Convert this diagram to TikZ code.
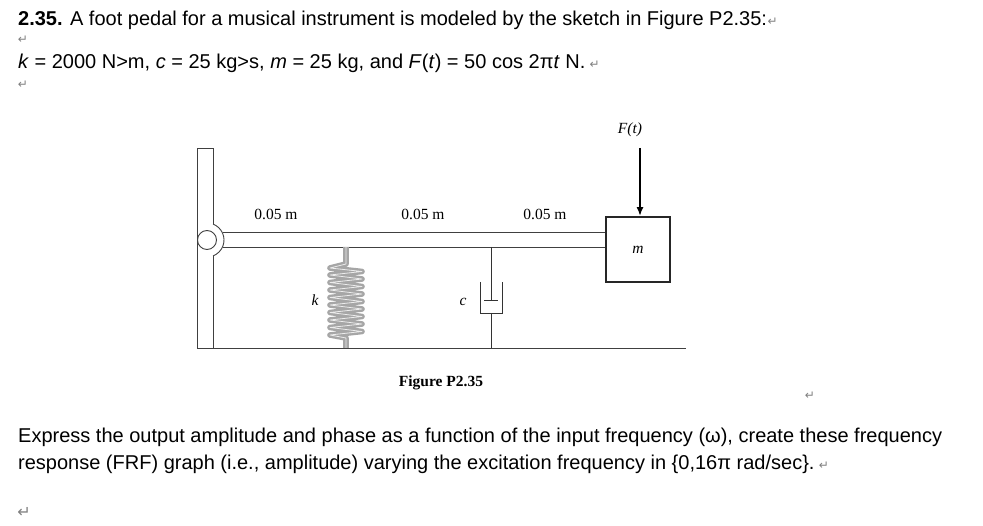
\documentclass[tikz,border=0pt]{standalone}
\usetikzlibrary{arrows.meta}
\usepackage{fontspec}
\setmainfont{Liberation Sans}
\newfontfamily\fig{Liberation Serif}
\newfontfamily\dv{DejaVu Sans}
\begin{document}
\begin{tikzpicture}[x=1pt,y=-1pt,
  txt/.style={anchor=base west,inner sep=0,font=\fontsize{20}{24}\selectfont},
  lab/.style={inner sep=0,font=\fig\fontsize{15.5}{18}\selectfont},
  ret/.style={inner sep=0,text=gray,font=\dv\fontsize{12}{14}\selectfont},
  struct/.style={draw=black!75,line width=0.9pt}]
\useasboundingbox (0,0) rectangle (983,526);
% text
\node[txt] (t1) at (18,26) {\textbf{2.35.} A foot pedal for a musical instrument is modeled by the sketch in Figure P2.35:};
\node[ret,anchor=base west] (r1) at (t1.base east) {↵};
\node[ret] (r2) at (23,40) {↵};
\node[txt] (t2) at (18,69) {\textit{k} = 2000 N>m, \textit{c} = 25 kg>s, \textit{m} = 25 kg, and \textit{F}(\textit{t}) = 50 cos 2π\textit{t} N.};
\node[ret,anchor=base west] (r3) at (t2.base east) {\ ↵};
\node[ret] (r4) at (23,85) {↵};
\node[txt] (t3) at (18,443) {Express the output amplitude and phase as a function of the input frequency (ω), create these frequency};
\node[txt] (t4) at (18,470) {response (FRF) graph (i.e., amplitude) varying the excitation frequency in \{0,16π rad/sec\}.};
\node[ret,anchor=base west] (r5) at (t4.base east) {\ ↵};
\node[ret] (r6) at (810,396) {↵};
\node[ret,font=\dv\fontsize{16}{18}\selectfont] (r7) at (24,512) {↵};
% post and ground
\draw[struct] (197,348) -- (197,148) -- (213,148) -- (213,224);
\draw[struct] (213,256) -- (213,348);
\draw[struct] (197,348) -- (686,348);
% pivot
\coordinate (pv) at (207,240);
\draw[struct] (pv) ++(-69:17) arc[start angle=-69,end angle=69,radius=17];
\draw[struct] (pv) circle[radius=9.5];
% beam
\node[draw=black!85,line width=1.8pt,minimum width=64,minimum height=65,inner sep=0] (m) at (638,249.5) {\fig\itshape\fontsize{15.5}{18}\selectfont m};
\draw[struct] (223,232) -- (m.west|-0,232);
\draw[struct] (223,247) -- (m.west|-0,247);
% force
\node[lab] (F) at (630,130) {\itshape F(t)};
\coordinate (fa) at (640,148);
\draw[line width=1.8pt,-{Latex[length=9pt,width=7pt]}] (fa) -- (m.north-|fa);
% spring
\draw[gray!70,line width=2.4pt,line join=round,double=gray!15,double distance=0.8pt]
  (346,247) -- (346,264) -- (330,268)
  \foreach \i in {0,...,8}{ -- (362,271.5+\i*7.5) -- (330,275+\i*7.5)} -- (346,338) -- (346,348);
\node[lab,font=\fig\itshape\fontsize{15.5}{18}\selectfont] (k) at (315,300) {k};
% damper
\draw[black!80,line width=0.8pt] (491,247) -- (491,300) (484,300) -- (498,300)
  (480,282) -- (480,313) -- (502,313) -- (502,282) (491,313) -- (491,348);
\node[lab,font=\fig\itshape\fontsize{15.5}{18}\selectfont] (c) at (463,302) {c};
% dims
\node[lab] (d1) at (276,214) {0.05 m};
\node[lab] (d2) at (423,214) {0.05 m};
\node[lab] (d3) at (545,214) {0.05 m};
\node[lab,font=\fig\bfseries\fontsize{15.5}{18}\selectfont] (cap) at (441,383) {Figure P2.35};
\end{tikzpicture}
\end{document}
